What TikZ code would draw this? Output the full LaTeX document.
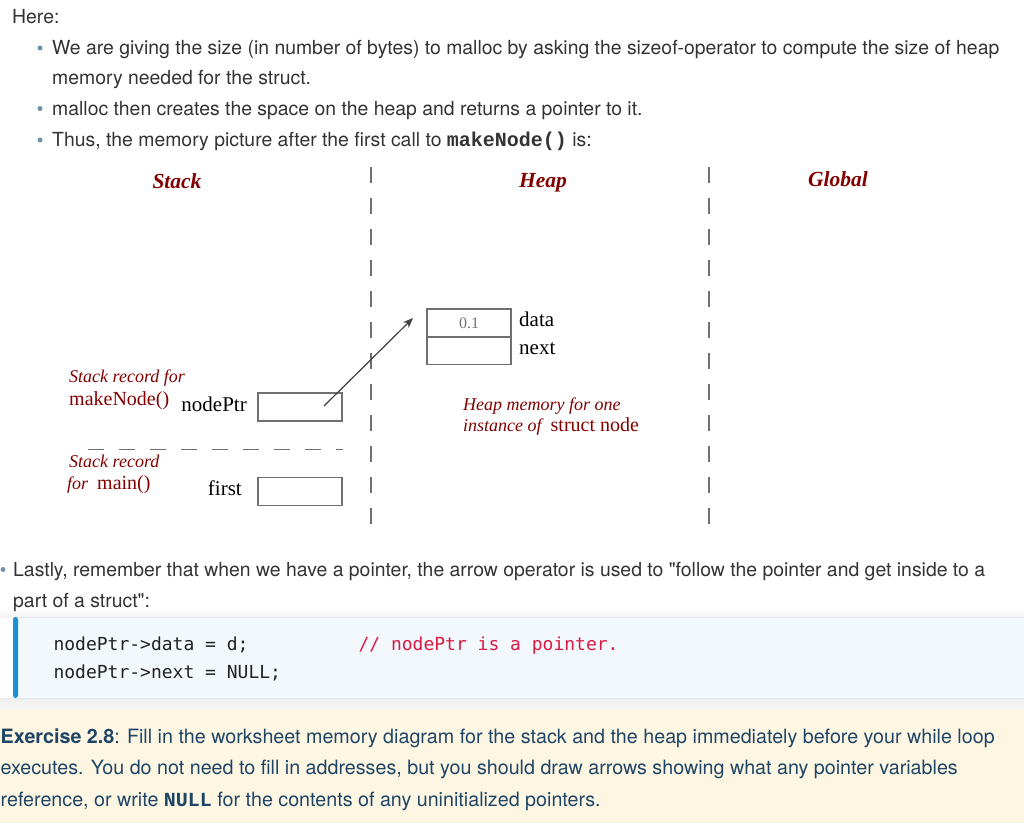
\documentclass[tikz,border=0pt]{standalone}
\usepackage{fontspec}
\usetikzlibrary{arrows.meta}
\newfontfamily\bodyfont{TeX Gyre Heros}
\newfontfamily\memfont{Liberation Serif}
\newfontfamily\ttbold{Liberation Mono}
\newfontfamily\codefont{DejaVu Sans Mono}
\definecolor{bodygray}{HTML}{333333}
\definecolor{bulletblue}{HTML}{6F91AB}
\definecolor{darkred}{HTML}{820000}
\definecolor{linegray}{HTML}{707070}
\definecolor{ptrgray}{HTML}{404040}
\definecolor{codebg}{HTML}{F3F8FC}
\definecolor{codeline}{HTML}{E3E6EA}
\definecolor{barblue}{HTML}{1A93D3}
\definecolor{crimson}{HTML}{D91A43}
\definecolor{codeblack}{HTML}{222222}
\definecolor{exbg}{HTML}{FDF6E3}
\definecolor{exblue}{HTML}{1F4566}
\begin{document}
\begin{tikzpicture}[x=1pt,y=-1pt,every node/.style={inner sep=0,anchor=base west},
        tx/.style={font=\bodyfont\fontsize{19.4}{22}\selectfont,text=bodygray},
        bl/.style={circle,fill=bulletblue,minimum size=5pt,inner sep=0,anchor=center},
        hd/.style={font=\memfont\fontsize{21.5}{24}\selectfont\bfseries\itshape,text=darkred,anchor=base},
        vr/.style={font=\memfont\fontsize{21}{24}\selectfont,text=black},
        nt/.style={font=\memfont\fontsize{18}{20}\selectfont\itshape,text=darkred},
        cell/.style={draw=linegray,line width=1.4pt,minimum width=84pt,minimum height=28pt,anchor=center},
        sep/.style={draw=linegray,line width=1.4pt,dash pattern=on 16pt off 15pt},
        cd/.style={font=\codefont\fontsize{18}{22}\selectfont,text=codeblack},
        ex/.style={font=\bodyfont\fontsize{19.7}{22}\selectfont,text=exblue}]
    \useasboundingbox (0,0) rectangle (1024,823);
    \fill[white] (0,0) rectangle (1024,823);
    \shade[top color=white,bottom color=black!5] (0,609) rectangle (1024,617);
    \shade[top color=black!7,bottom color=black!3] (0,698) rectangle (1024,709);
    \node[tx] (here) at (12,23) {Here:};
    \foreach \y/\n in {54.5/1,115/3,146.5/4}{
        \node[bl] (b\n) at (40,\y-6.5) {};
    }
    \node[tx] (l1) at (52,54.5) {We are giving the size (in number of bytes) to malloc by asking the sizeof-operator to compute the size of heap};
    \node[tx] (l2) at (52,84) {memory needed for the struct.};
    \node[tx] (l3) at (52,115) {malloc then creates the space on the heap and returns a pointer to it.};
    \node[tx] (l4) at (52,146.5) {Thus, the memory picture after the first call to {\ttbold\bfseries\fontsize{20}{22}\selectfont makeNode()} is:};
    \node[hd] (stk) at (177,188.5) {Stack};
    \node[hd] (hp) at (543,187) {Heap};
    \node[hd] (gl) at (838,186) {Global};
    \draw[sep] (371,167) -- (371,528);
    \draw[sep] (709,167) -- (709,528);
    \draw[sep] (88,449.3) -- (343,449.3);
    \node[cell,font=\memfont\fontsize{16}{18}\selectfont,text=linegray] (hdata) at (469,323) {0.1};
    \node[cell,minimum height=27.5pt] (hnext) at (469,350.5) {};
    \node[vr] (datalbl) at (519,326.5) {data};
    \node[vr] (nextlbl) at (519,354) {next};
    \node[cell] (ptrbox) at (300,407) {};
    \node[cell] (firstbox) at (300,491.5) {};
    \node[vr,anchor=base east] (ptrlbl) at (247,411) {nodePtr};
    \node[vr,anchor=base east] (firstlbl) at (242,495) {first};
    \coordinate (ptrsrc) at (324,406);
    \coordinate (ptrdst) at (413,318);
    \draw[ptrgray,line width=1.2pt,-{Stealth[length=10pt,width=8pt,inset=3pt]}] (ptrsrc) -- (ptrdst);
    \node[nt] (recA) at (69,382.3) {Stack record for};
    \node[nt] (recB) at (69,405) {\upshape\fontsize{20}{22}\selectfont makeNode()};
    \node[nt] (recC) at (69,467.3) {Stack record};
    \node[nt] (recD) at (67,489.3) {for\ \ {\upshape\fontsize{20}{22}\selectfont main()}};
    \node[nt] (heapA) at (463,410.7) {Heap memory for one};
    \node[nt] (heapB) at (463,431.7) {instance of\ \ {\upshape\fontsize{20}{22}\selectfont struct node}};
    \node[bl] (b5) at (3,569.5) {};
    \node[tx] (m1) at (13,576) {Lastly, remember that when we have a pointer, the arrow operator is used to "follow the pointer and get inside to a};
    \node[tx] (m2) at (13,607.3) {part of a struct":};
    \fill[codebg] (13,617) rectangle (1024,698);
    \draw[codeline] (13,617) -- (1024,617);
    \draw[codeline] (13,698) -- (1024,698);
    \fill[barblue,rounded corners=2.5pt] (13,617) rectangle (18,698);
    \node[cd] (c1) at (53.3,650) {nodePtr->data = d;};
    \node[cd] (c2) at (53.3,678.3) {nodePtr->next = NULL;};
    \node[cd,text=crimson] (cm) at (358.3,650) {// nodePtr is a pointer.};
    \fill[exbg] (0,709) rectangle (1024,823);
    \node[ex] (e1) at (0.5,743.5) {\textbf{Exercise 2.8}: Fill in the worksheet memory diagram for the stack and the heap immediately before your while loop};
    \node[ex] (e2) at (0.5,774) {executes. You do not need to fill in addresses, but you should draw arrows showing what any pointer variables};
    \node[ex] (e3) at (0.5,806) {reference, or write {\ttbold\bfseries\fontsize{20}{22}\selectfont NULL} for the contents of any uninitialized pointers.};
\end{tikzpicture}
\end{document}
